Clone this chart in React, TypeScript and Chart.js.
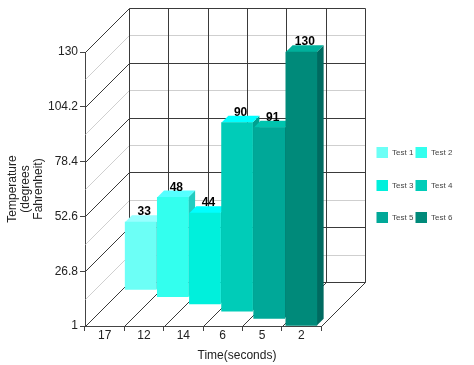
import React, { useEffect, useRef } from "react";
import { Chart, registerables } from "chart.js";

Chart.register(...registerables);

const categories = ["17", "12", "14", "6", "5", "2"];
const seriesNames = ["Test 1", "Test 2", "Test 3", "Test 4", "Test 5", "Test 6"];
const seriesValues = [33, 48, 44, 90, 91, 130];
const yTicks = [1, 26.8, 52.6, 78.4, 104.2, 130];
const faceColors = ["#6CFFF6", "#33FFEE", "#00F0DC", "#00CCB8", "#00A898", "#008A7A"];
const topColors = ["#99FFFF", "#55FFFF", "#00FFFF", "#00FFFF", "#00C4AE", "#00B09C"];
const sideColors = ["#44CCC4", "#22CCC0", "#00C0B0", "#00A090", "#008074", "#006A60"];
const yTitle = ["Temperature", "(degrees", "Fahrenheit)"];
const xTitle = "Time(seconds)";

const FONT = "Arial, 'Liberation Sans', sans-serif";
const WALL = 44;
const STEP = 7.2;
const BAR_DEPTH = 6.8;

const line = (ctx: CanvasRenderingContext2D, x1: number, y1: number, x2: number, y2: number) => {
  ctx.beginPath();
  ctx.moveTo(Math.round(x1) + 0.5, Math.round(y1) + 0.5);
  ctx.lineTo(Math.round(x2) + 0.5, Math.round(y2) + 0.5);
  ctx.stroke();
};

const poly = (ctx: CanvasRenderingContext2D, pts: number[][], color: string) => {
  ctx.fillStyle = color;
  ctx.beginPath();
  pts.forEach(([x, y], i) => (i ? ctx.lineTo(x, y) : ctx.moveTo(x, y)));
  ctx.closePath();
  ctx.fill();
};

const wallsPlugin = {
  id: "walls",
  beforeDatasetsDraw(chart: any) {
    const { ctx, scales } = chart;
    const x = scales.x;
    const y = scales.y;
    const yTop = y.getPixelForValue(yTicks[yTicks.length - 1]);
    const yBot = y.getPixelForValue(yTicks[0]);
    const slot = (x.right - x.left) / categories.length;
    ctx.save();
    ctx.lineWidth = 1;
    // light half-step lines
    ctx.strokeStyle = "#cfcfcf";
    for (let i = 0; i < yTicks.length - 1; i++) {
      const p = y.getPixelForValue((yTicks[i] + yTicks[i + 1]) / 2);
      line(ctx, x.left, p, x.left + WALL, p - WALL);
      line(ctx, x.left + WALL, p - WALL, x.right + WALL, p - WALL);
    }
    // major lines
    ctx.strokeStyle = "#3a3a3a";
    yTicks.forEach((v) => {
      const p = y.getPixelForValue(v);
      line(ctx, x.left, p, x.left + WALL, p - WALL);
      line(ctx, x.left + WALL, p - WALL, x.right + WALL, p - WALL);
    });
    for (let i = 0; i <= categories.length; i++) {
      const px = x.left + i * slot;
      line(ctx, px + WALL, yTop - WALL, px + WALL, yBot - WALL);
      line(ctx, px, yBot, px + WALL, yBot - WALL);
    }
    ctx.restore();
  },
  beforeDatasetDraw(chart: any, args: any) {
    const { ctx } = chart;
    const i = args.index;
    const shift = (categories.length - 1 - i) * STEP;
    ctx.save();
    ctx.translate(shift, -shift);
    const el = chart.getDatasetMeta(i).data[i];
    const { x, y, base, width } = el.getProps(["x", "y", "base", "width"], true);
    const r = x + width / 2;
    const l = x - width / 2;
    const d = BAR_DEPTH;
    poly(ctx, [[r, y], [r + d, y - d], [r + d, base - d], [r, base]], sideColors[i]);
    poly(ctx, [[l, y], [l + d, y - d], [r + d, y - d], [r, y]], topColors[i]);
  },
  afterDatasetDraw(chart: any) {
    chart.ctx.restore();
  },
  afterDatasetsDraw(chart: any) {
    const { ctx, scales } = chart;
    ctx.save();
    // value labels
    ctx.fillStyle = "#000";
    ctx.font = `bold 12px ${FONT}`;
    ctx.textAlign = "center";
    ctx.textBaseline = "alphabetic";
    seriesValues.forEach((v, i) => {
      const el = chart.getDatasetMeta(i).data[i];
      const shift = (categories.length - 1 - i) * STEP;
      ctx.fillText(String(v), el.x + shift + 3.5, el.y - shift - BAR_DEPTH);
    });
    // x title
    ctx.fillStyle = "#222";
    ctx.font = `12px ${FONT}`;
    ctx.fillText(xTitle, (scales.x.left + scales.x.right) / 2 + 34, 359);
    // legend, filled row by row
    const cols = [376.5, 415.5];
    const rows = [147, 180, 212];
    ctx.textAlign = "left";
    ctx.textBaseline = "middle";
    ctx.font = `8px ${FONT}`;
    seriesNames.forEach((name, i) => {
      const cx = cols[i % 2];
      const cy = rows[Math.floor(i / 2)];
      ctx.fillStyle = faceColors[i];
      ctx.fillRect(cx, cy, 11.5, 11);
      ctx.fillStyle = "#444";
      ctx.fillText(name, cx + 15.5, cy + 6);
    });
    ctx.restore();
  },
};

export default function App() {
  const ref = useRef<HTMLCanvasElement | null>(null);
  useEffect(() => {
    if (!ref.current) return;
    const chart = new Chart(ref.current, {
      type: "bar",
      plugins: [wallsPlugin],
      data: {
        labels: categories,
        datasets: seriesNames.map((name, i) => ({
          label: name,
          data: seriesValues.map((v, j) => (j === i ? v : null)),
          backgroundColor: faceColors[i],
          barThickness: 31,
          base: yTicks[0],
          order: -i,
          clip: false as any,
        })),
      },
      options: {
        animation: false,
        responsive: false,
        layout: { padding: { top: 52, right: 153, left: 0, bottom: 0 } },
        plugins: { legend: { display: false }, tooltip: { enabled: false } },
        scales: {
          x: {
            stacked: true,
            offset: true,
            grid: { drawOnChartArea: false, color: "#444", tickLength: 5, offset: true },
            border: { color: "#444" },
            ticks: { color: "#222", font: { family: FONT, size: 12 }, padding: -3, maxRotation: 0, autoSkip: false },
            afterFit: (s: any) => {
              s.height = 39;
            },
          },
          y: {
            min: yTicks[0],
            max: yTicks[yTicks.length - 1],
            afterBuildTicks: (s: any) => {
              s.ticks = yTicks.map((value) => ({ value }));
            },
            grid: { drawOnChartArea: false, color: "#444", tickLength: 5 },
            border: { color: "#444" },
            ticks: { color: "#222", font: { family: FONT, size: 12 }, padding: 2 },
            title: {
              display: true,
              text: yTitle,
              color: "#222",
              font: { family: FONT, size: 12, lineHeight: 1.1 },
              padding: { top: 6, bottom: 0 },
            },
            afterFit: (s: any) => {
              s.width = 85;
            },
          },
        },
      },
    });
    return () => chart.destroy();
  }, []);
  return (
    <div style={{ position: "fixed", left: 0, top: 0, width: 474, height: 365, background: "#fff" }}>
      <canvas ref={ref} width={474} height={365} style={{ display: "block" }} />
    </div>
  );
}
